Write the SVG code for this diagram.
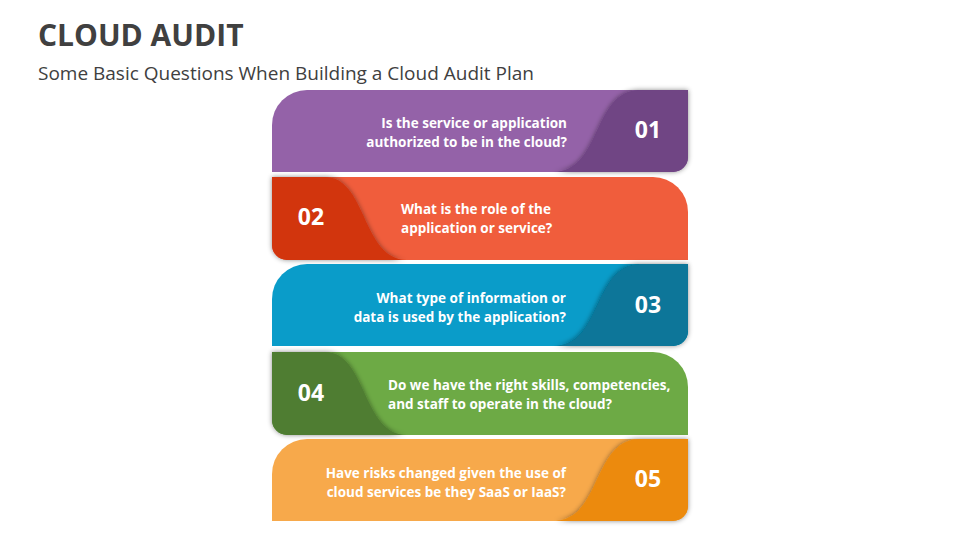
<svg xmlns="http://www.w3.org/2000/svg" width="960" height="540" viewBox="0 0 960 540">
<style>
.t{font-family:"Open Sans","Liberation Sans",sans-serif;font-weight:bold;fill:#fff;font-size:13.5px}
.n{font-family:"Open Sans","Liberation Sans",sans-serif;font-weight:bold;fill:#fff;font-size:23px;text-anchor:middle}
.e{text-anchor:end}
</style>
<defs>
<filter id="sh" x="-20%" y="-20%" width="140%" height="140%"><feDropShadow dx="0" dy="0" stdDeviation="2.5" flood-color="#000" flood-opacity="0.45"/></filter>
<path id="r" d="M0,35 A35,35 0 0 1 35,0 H416 V67 A15,15 0 0 1 401,82 H0 Z"/>
<path id="rd" d="M368,0 H416 V67 A15,15 0 0 1 401,82 H281 C330,82 320,0 368,0 Z"/>
<path id="l" d="M0,0 H381 A35,35 0 0 1 416,35 V83 H15 A15,15 0 0 1 0,68 Z"/>
<path id="ld" d="M0,0 H53 C95,0 90,83 135,83 H15 A15,15 0 0 1 0,68 Z"/>
</defs>
<rect width="960" height="540" fill="#fff"/>
<text x="38" y="46" font-family="'Open Sans','Liberation Sans',sans-serif" font-weight="bold" font-size="30" fill="#404040">CLOUD AUDIT</text>
<text x="38" y="80" font-family="'Open Sans','Liberation Sans',sans-serif" font-size="19" fill="#404040">Some Basic Questions When Building a Cloud Audit Plan</text>
<g id="node1" transform="translate(272,90)">
<use href="#r" fill="#9462A8"/><use href="#rd" fill="#6F4484" filter="url(#sh)"/>
<text class="t e" x="295" y="38">Is the service or application</text>
<text class="t e" x="295" y="57">authorized to be in the cloud?</text>
<text class="n" x="376" y="48">01</text>
</g>
<g id="node2" transform="translate(272,177)">
<use href="#l" fill="#F05D3C"/><use href="#ld" fill="#D23511" filter="url(#sh)"/>
<text class="t" x="129" y="37">What is the role of the</text>
<text class="t" x="129" y="56">application or service?</text>
<text class="n" x="39" y="48">02</text>
</g>
<g id="node3" transform="translate(272,264)">
<use href="#r" fill="#0A9CC9"/><use href="#rd" fill="#077699" filter="url(#sh)"/>
<text class="t e" x="294" y="39">What type of information or</text>
<text class="t e" x="294" y="58">data is used by the application?</text>
<text class="n" x="376" y="49">03</text>
</g>
<g id="node4" transform="translate(272,352)">
<use href="#l" fill="#6DAA45"/><use href="#ld" fill="#4F7D33" filter="url(#sh)"/>
<text class="t" x="116" y="38">Do we have the right skills, competencies,</text>
<text class="t" x="116" y="57">and staff to operate in the cloud?</text>
<text class="n" x="39" y="49">04</text>
</g>
<g id="node5" transform="translate(272,439)">
<use href="#r" fill="#F7A94B"/><use href="#rd" fill="#EC8A0C" filter="url(#sh)"/>
<text class="t e" x="294" y="39">Have risks changed given the use of</text>
<text class="t e" x="294" y="58">cloud services be they SaaS or IaaS?</text>
<text class="n" x="376" y="48">05</text>
</g>
<g id="connectors"/>
</svg>
